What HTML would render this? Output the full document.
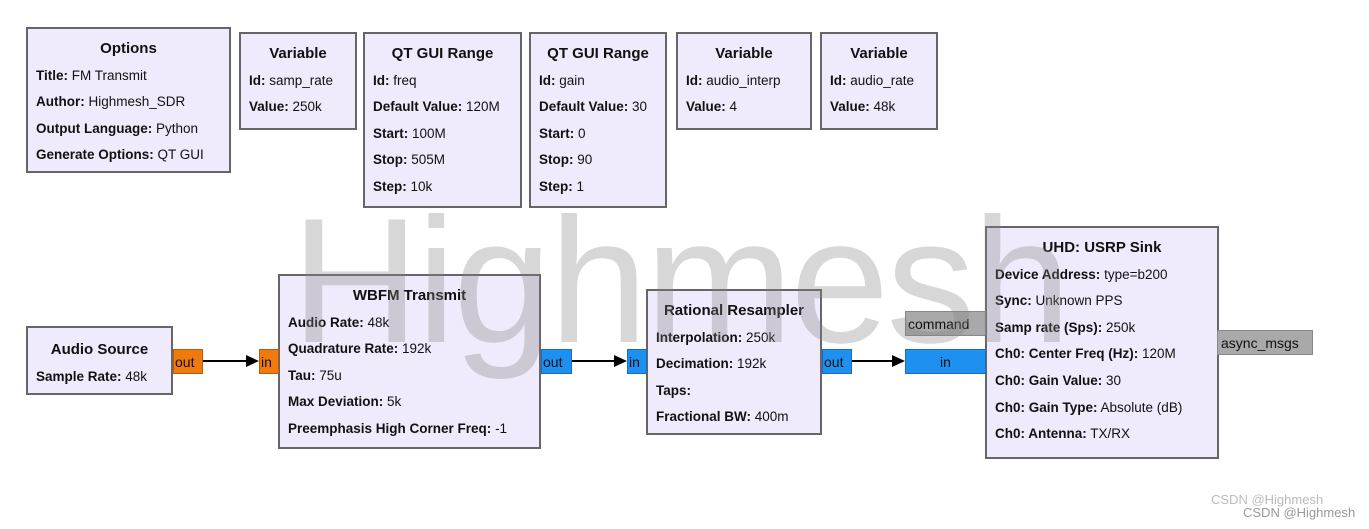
<!DOCTYPE html>
<html><head><meta charset="utf-8"><style>
body{margin:0;width:1369px;height:529px;background:#fff;position:relative;overflow:hidden;font-family:"Liberation Sans",sans-serif;}
.b{position:absolute;background:#efebfc;border:2px solid #666;box-sizing:border-box;padding:7px 0 0 8px;font-size:13.5px;line-height:26.6px;color:#111;white-space:nowrap}
.b .t{text-align:center;font-weight:bold;font-size:15px;margin-left:-8px}
.b b{font-weight:bold}
.p{position:absolute;box-sizing:border-box;height:25px;font-size:14px;line-height:24px;color:#111;overflow:hidden;white-space:nowrap}
.o{background:#f07a0c;border:1px solid #b45c10}
.c{background:#1e90f0;border:1px solid #1a6cc0}
.g{background:#a9a9a9;border:1px solid #888}
.wm{position:absolute;left:291px;top:192px;font-size:178px;line-height:178px;color:rgba(130,130,130,0.32);letter-spacing:-3px;white-space:nowrap}
</style></head><body>
<div class="b" style="left:26px;top:27px;width:205px;height:146px"><div class="t">Options</div><div><b>Title:</b> FM Transmit</div><div><b>Author:</b> Highmesh_SDR</div><div><b>Output Language:</b> Python</div><div><b>Generate Options:</b> QT GUI</div></div>
<div class="b" style="left:239px;top:32px;width:118px;height:98px"><div class="t">Variable</div><div><b>Id:</b> samp_rate</div><div><b>Value:</b> 250k</div></div>
<div class="b" style="left:363px;top:32px;width:159px;height:176px"><div class="t">QT GUI Range</div><div><b>Id:</b> freq</div><div><b>Default Value:</b> 120M</div><div><b>Start:</b> 100M</div><div><b>Stop:</b> 505M</div><div><b>Step:</b> 10k</div></div>
<div class="b" style="left:529px;top:32px;width:138px;height:176px"><div class="t">QT GUI Range</div><div><b>Id:</b> gain</div><div><b>Default Value:</b> 30</div><div><b>Start:</b> 0</div><div><b>Stop:</b> 90</div><div><b>Step:</b> 1</div></div>
<div class="b" style="left:676px;top:32px;width:136px;height:98px"><div class="t">Variable</div><div><b>Id:</b> audio_interp</div><div><b>Value:</b> 4</div></div>
<div class="b" style="left:820px;top:32px;width:118px;height:98px"><div class="t">Variable</div><div><b>Id:</b> audio_rate</div><div><b>Value:</b> 48k</div></div>

<div class="b" style="left:26px;top:326px;width:147px;height:69px;padding-top:9px"><div class="t">Audio Source</div><div><b>Sample Rate:</b> 48k</div></div>
<div class="b" style="left:278px;top:274px;width:263px;height:175px"><div class="t">WBFM Transmit</div><div><b>Audio Rate:</b> 48k</div><div><b>Quadrature Rate:</b> 192k</div><div><b>Tau:</b> 75u</div><div><b>Max Deviation:</b> 5k</div><div><b>Preemphasis High Corner Freq:</b> -1</div></div>
<div class="b" style="left:646px;top:289px;width:176px;height:146px"><div class="t">Rational Resampler</div><div><b>Interpolation:</b> 250k</div><div><b>Decimation:</b> 192k</div><div><b>Taps:</b></div><div><b>Fractional BW:</b> 400m</div></div>
<div class="b" style="left:985px;top:226px;width:234px;height:233px"><div class="t">UHD: USRP Sink</div><div><b>Device Address:</b> type=b200</div><div><b>Sync:</b> Unknown PPS</div><div><b>Samp rate (Sps):</b> 250k</div><div><b>Ch0: Center Freq (Hz):</b> 120M</div><div><b>Ch0: Gain Value:</b> 30</div><div><b>Ch0: Gain Type:</b> Absolute (dB)</div><div><b>Ch0: Antenna:</b> TX/RX</div></div>

<div class="p o" style="left:173px;top:349px;width:30px;padding-left:1px">out</div>
<div class="p o" style="left:259px;top:349px;width:20px;padding-left:1px">in</div>
<div class="p c" style="left:541px;top:349px;width:31px;padding-left:1px">out</div>
<div class="p c" style="left:627px;top:349px;width:20px;padding-left:1px">in</div>
<div class="p c" style="left:822px;top:349px;width:30px;padding-left:1px">out</div>
<div class="p c" style="left:905px;top:349px;width:81px;text-align:center">in</div>
<div class="p g" style="left:905px;top:311px;width:81px;padding-left:2px">command</div>
<div class="p g" style="left:1217px;top:330px;width:96px;padding-left:3px">async_msgs</div>

<svg style="position:absolute;left:0;top:0" width="1369" height="529">
<g stroke="#000" stroke-width="2"><line x1="203" y1="361" x2="248" y2="361"/><line x1="572" y1="361" x2="616" y2="361"/><line x1="852" y1="361" x2="894" y2="361"/></g>
<g fill="#000"><polygon points="259,361 246,355 246,367"/><polygon points="627,361 614,355 614,367"/><polygon points="905,361 892,355 892,367"/></g>
</svg>
<div class="wm">Highmesh</div>
<div style="position:absolute;left:1211px;top:492px;font-size:13px;color:#bbb">CSDN @Highmesh</div>
<div style="position:absolute;left:1243px;top:505px;font-size:13px;color:#999">CSDN @Highmesh</div>
</body></html>
